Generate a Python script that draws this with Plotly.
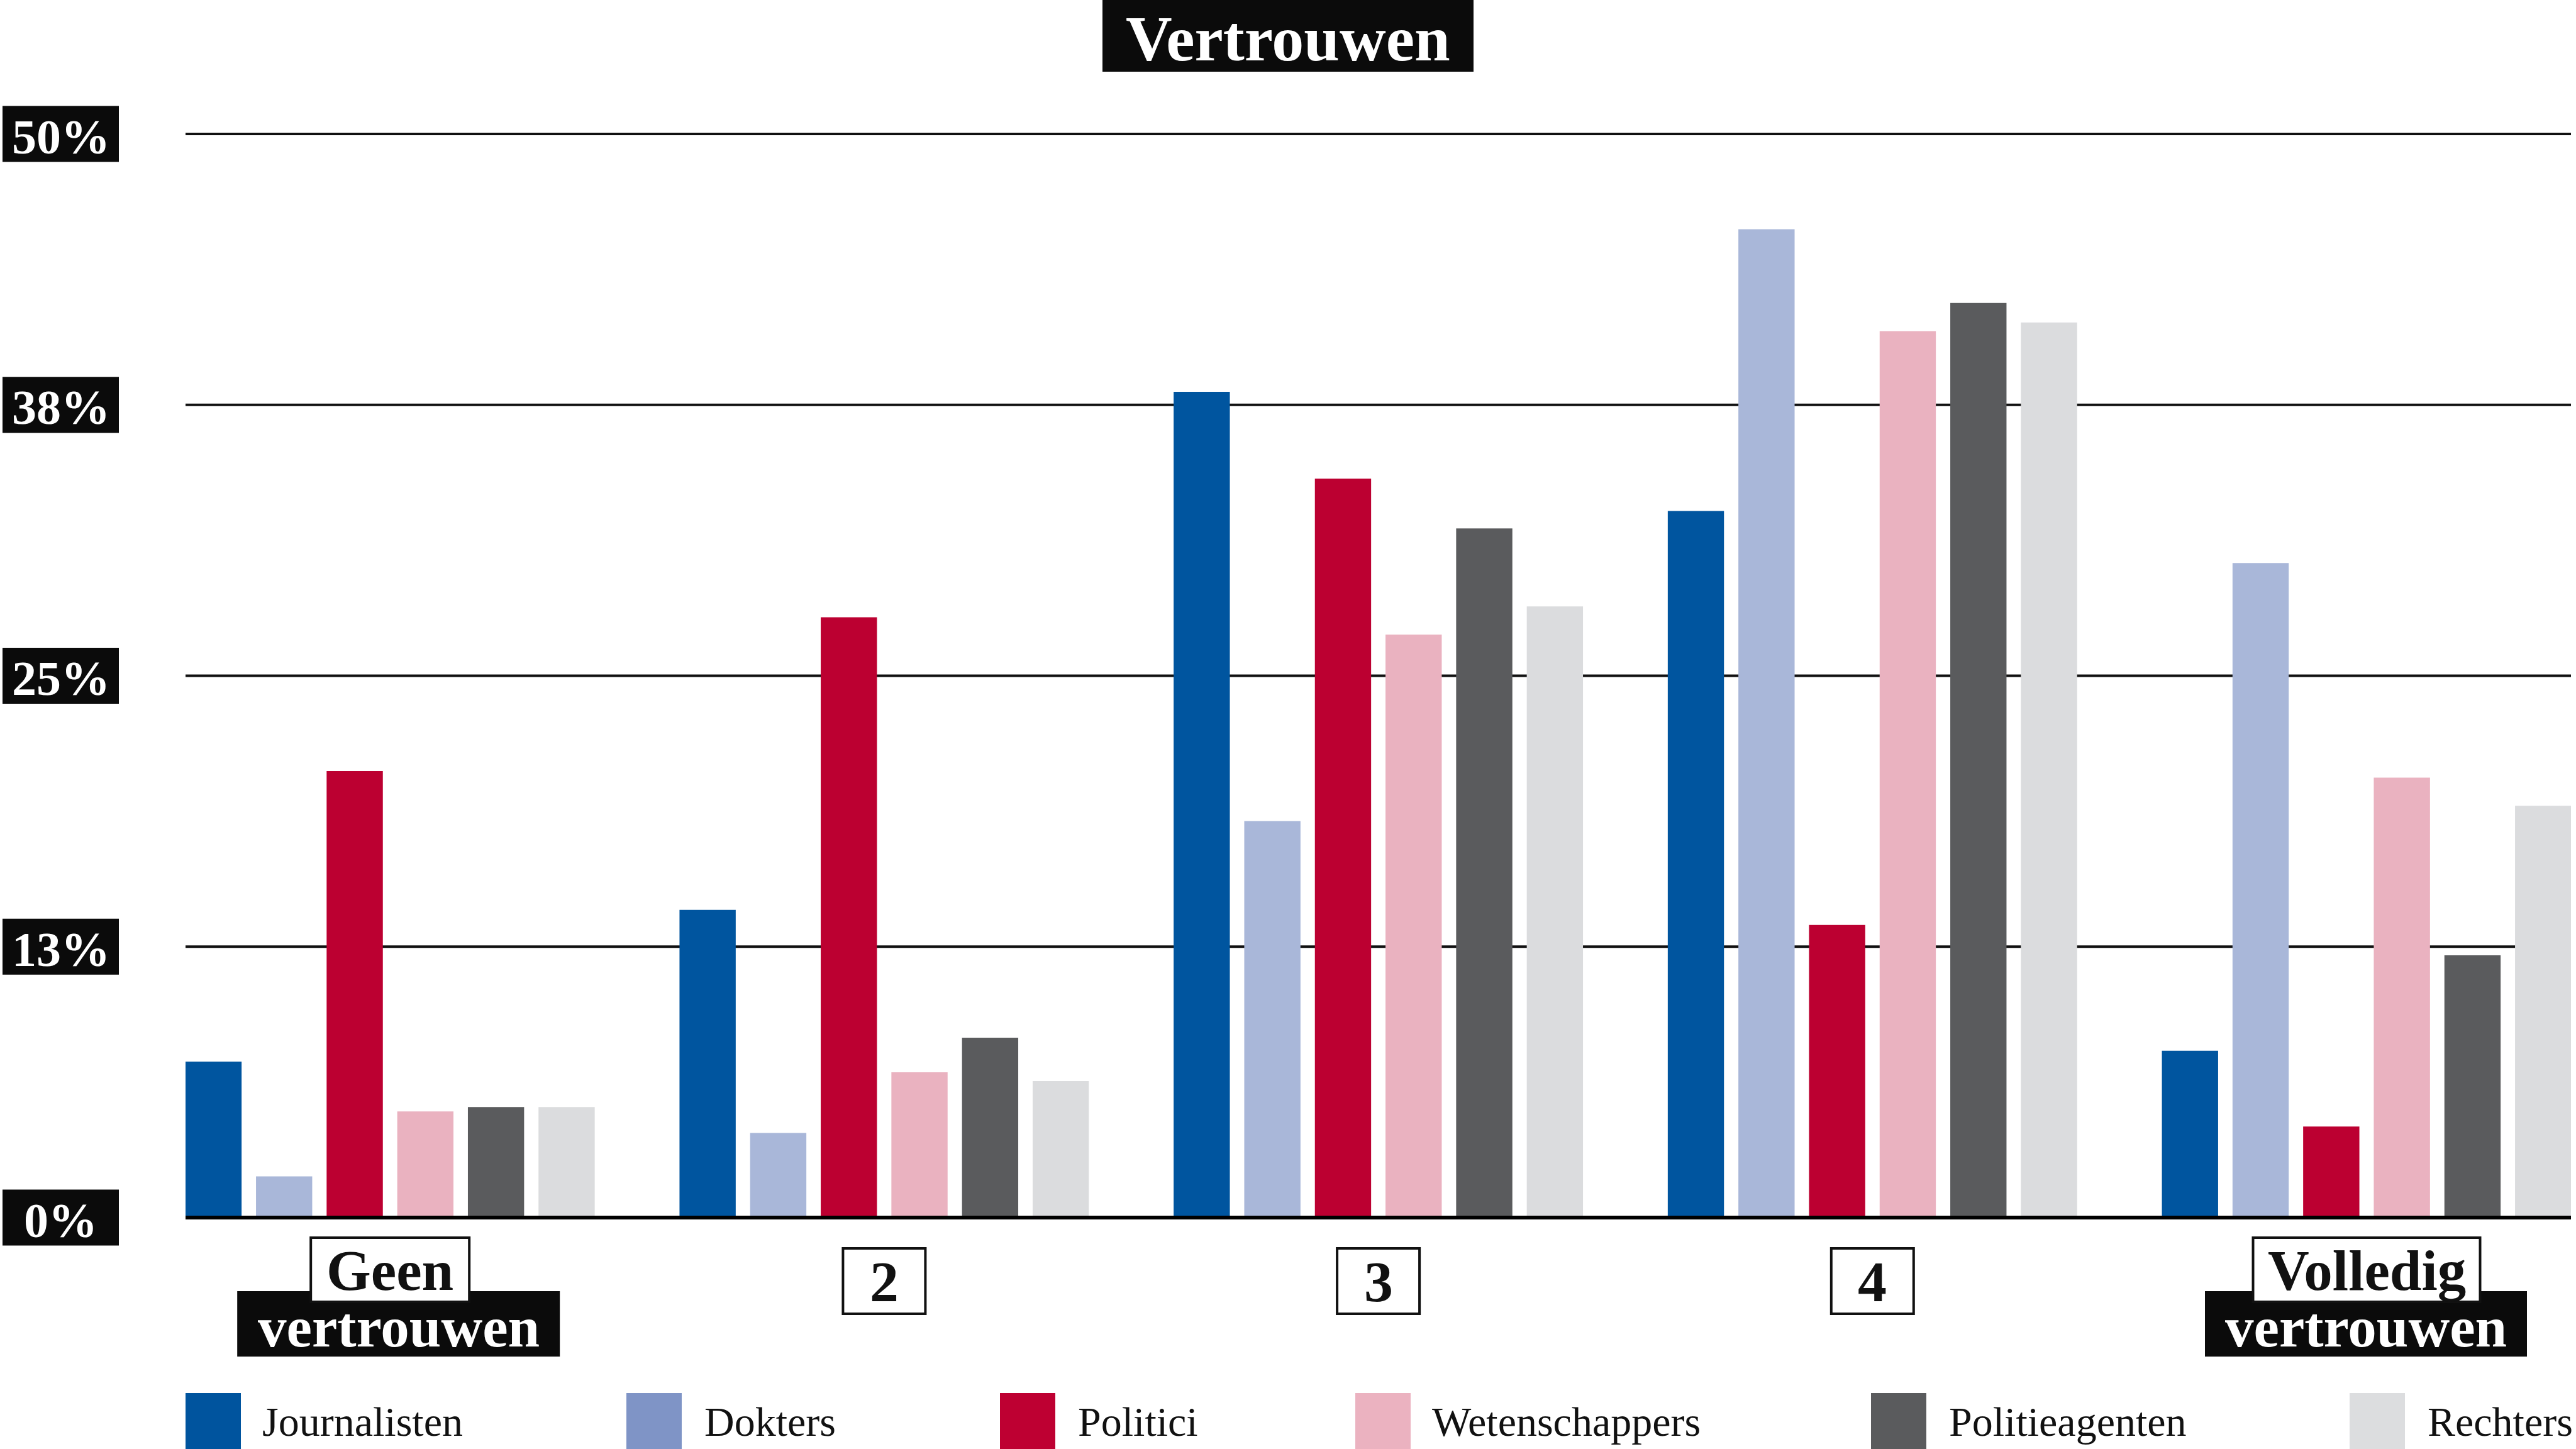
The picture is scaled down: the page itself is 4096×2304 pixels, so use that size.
import plotly.graph_objects as go

# ---------------- data ----------------
categories = ["Geen vertrouwen", "2", "3", "4", "Volledig vertrouwen"]
series_names = ["Journalisten", "Dokters", "Politici", "Wetenschappers", "Politieagenten", "Rechters"]
journalisten = [7.2, 14.2, 38.1, 32.6, 7.7]
dokters = [1.9, 3.9, 18.3, 45.6, 30.2]
politici = [20.6, 27.7, 34.1, 13.5, 4.2]
wetenschappers = [4.9, 6.7, 26.9, 40.9, 20.3]
politieagenten = [5.1, 8.3, 31.8, 42.2, 12.1]
rechters = [5.1, 6.3, 28.2, 41.3, 19.0]
y_tick_vals = [0, 12.5, 25, 37.5, 50]
y_tick_labels = ["0%", "13%", "25%", "38%", "50%"]
title_text = "Vertrouwen"

series_values = [journalisten, dokters, politici, wetenschappers, politieagenten, rechters]

# ---------------- style ----------------
bar_colors = ["#00559F", "#A9B7D9", "#BC0031", "#EAB2C0", "#5A5B5D", "#DBDCDE"]
legend_colors = ["#00549E", "#7F94C6", "#BE0032", "#EBB2C0", "#5A5B5D", "#DCDDDF"]
FONT = "Liberation Serif"

W, H = 4096, 2304
ML, MR, MT, MB = 295, 8, 213, 368
PW = W - ML - MR
PH = H - MT - MB
Y_MIN, Y_MAX = 0, 50


def px2x(px):
    return (px - ML) / PW


def py2y(py):
    return (H - MB - py) / PH


def v2y(v):
    # value -> paper fraction along the y axis range
    return (v - Y_MIN) / (Y_MAX - Y_MIN)


period = 785.7
x0_range = -325.2 / period
x1_range = x0_range + PW / period

fig = go.Figure()
xs = list(range(len(categories)))
for name, vals, col in zip(series_names, series_values, bar_colors):
    fig.add_trace(go.Bar(x=xs, y=vals, name=name, marker=dict(color=col, line=dict(width=0)),
                         showlegend=False, hovertemplate="%{y}%<extra>" + name + "</extra>"))

shapes = []
annotations = []

# gridlines
for v in y_tick_vals[1:]:
    shapes.append(dict(type="line", xref="paper", yref="paper", x0=0, x1=1, y0=v2y(v), y1=v2y(v),
                       line=dict(color="#111111", width=4), layer="below"))
# baseline
shapes.append(dict(type="line", xref="paper", yref="paper", x0=0, x1=1, y0=v2y(0), y1=v2y(0),
                   line=dict(color="#000000", width=6), layer="above"))

# y labels in black boxes
for v, lab in zip(y_tick_vals, y_tick_labels):
    shapes.append(dict(type="rect", xref="paper", yref="paper", ysizemode="pixel", yanchor=v2y(v),
                       x0=px2x(4), x1=px2x(189), y0=-44.5, y1=44.5,
                       fillcolor="#0B0B0B", line=dict(width=0)))
    annotations.append(dict(xref="paper", yref="paper", x=px2x(96.5), y=v2y(v), yshift=-4,
                            text=lab, showarrow=False, xanchor="center", yanchor="middle",
                            font=dict(family=FONT, size=78, color="white", weight="bold")))

# x labels
top_half_w = [126, 65.5, 65.5, 65.5, 180.5]
black_off = [(-243, 270), None, None, None, (-257, 255)]
for i, cat in enumerate(categories):
    parts = cat.split(" ", 1)
    top = parts[0]
    bottom = parts[1] if len(parts) > 1 else ""
    if bottom:
        bx0, bx1 = black_off[i]
        shapes.append(dict(type="rect", xref="x", xsizemode="pixel", xanchor=i, yref="paper",
                           x0=bx0, x1=bx1, y0=py2y(2157), y1=py2y(2053),
                           fillcolor="#0B0B0B", line=dict(width=0)))
        shapes.append(dict(type="rect", xref="x", xsizemode="pixel", xanchor=i, yref="paper",
                           x0=-top_half_w[i], x1=top_half_w[i], y0=py2y(2070), y1=py2y(1968),
                           fillcolor="white", line=dict(width=4, color="#111111")))
        annotations.append(dict(xref="x", yref="paper", x=i, xshift=(bx0 + bx1) / 2, y=py2y(2110),
                                text=bottom, showarrow=False, xanchor="center", yanchor="middle",
                                font=dict(family=FONT, size=91, color="white", weight="bold")))
        annotations.append(dict(xref="x", yref="paper", x=i, y=py2y(2020),
                                text=top, showarrow=False, xanchor="center", yanchor="middle",
                                font=dict(family=FONT, size=91, color="#111111", weight="bold")))
    else:
        shapes.append(dict(type="rect", xref="x", xsizemode="pixel", xanchor=i, yref="paper",
                           x0=-top_half_w[i], x1=top_half_w[i], y0=py2y(2089), y1=py2y(1985),
                           fillcolor="white", line=dict(width=4, color="#111111")))
        annotations.append(dict(xref="x", yref="paper", x=i, y=py2y(2038),
                                text=top, showarrow=False, xanchor="center", yanchor="middle",
                                font=dict(family=FONT, size=92, color="#111111", weight="bold")))

# title
shapes.append(dict(type="rect", xref="paper", yref="paper", x0=px2x(1753), x1=px2x(2343),
                   y0=py2y(114), y1=py2y(-20), fillcolor="#0B0B0B", line=dict(width=0)))
annotations.append(dict(xref="paper", yref="paper", x=px2x(2048), y=py2y(61), text=title_text,
                        showarrow=False, xanchor="center", yanchor="middle",
                        font=dict(family=FONT, size=102, color="white", weight="bold")))

# custom justified legend
swatch_left = [295, 996, 1590, 2155, 2975, 3736]
text_left = [415, 1118, 1712, 2275, 3097, 3858]
for name, col, sx, tx in zip(series_names, legend_colors, swatch_left, text_left):
    shapes.append(dict(type="rect", xref="paper", yref="paper", x0=px2x(sx), x1=px2x(sx + 88),
                       y0=py2y(2320), y1=py2y(2215), fillcolor=col, line=dict(width=0)))
    annotations.append(dict(xref="paper", yref="paper", x=px2x(tx), y=py2y(2260), text=name,
                            showarrow=False, xanchor="left", yanchor="middle",
                            font=dict(family=FONT, size=66, color="#111111")))

fig.update_layout(
    width=W, height=H,
    margin=dict(l=ML, r=MR, t=MT, b=MB, pad=0),
    paper_bgcolor="white", plot_bgcolor="white",
    barmode="group", bargap=0.1424, bargroupgap=0.204,
    xaxis=dict(range=[x0_range, x1_range], showgrid=False, zeroline=False, showticklabels=False,
               showline=False, ticks="", fixedrange=True),
    yaxis=dict(range=[Y_MIN, Y_MAX], showgrid=False, zeroline=False, showticklabels=False,
               showline=False, ticks="", fixedrange=True),
    shapes=shapes, annotations=annotations,
    showlegend=False,
)

fig.write_html("out.html", config={"displayModeBar": False},
               post_script="document.body.style.margin='0px';document.body.style.overflow='hidden';")
